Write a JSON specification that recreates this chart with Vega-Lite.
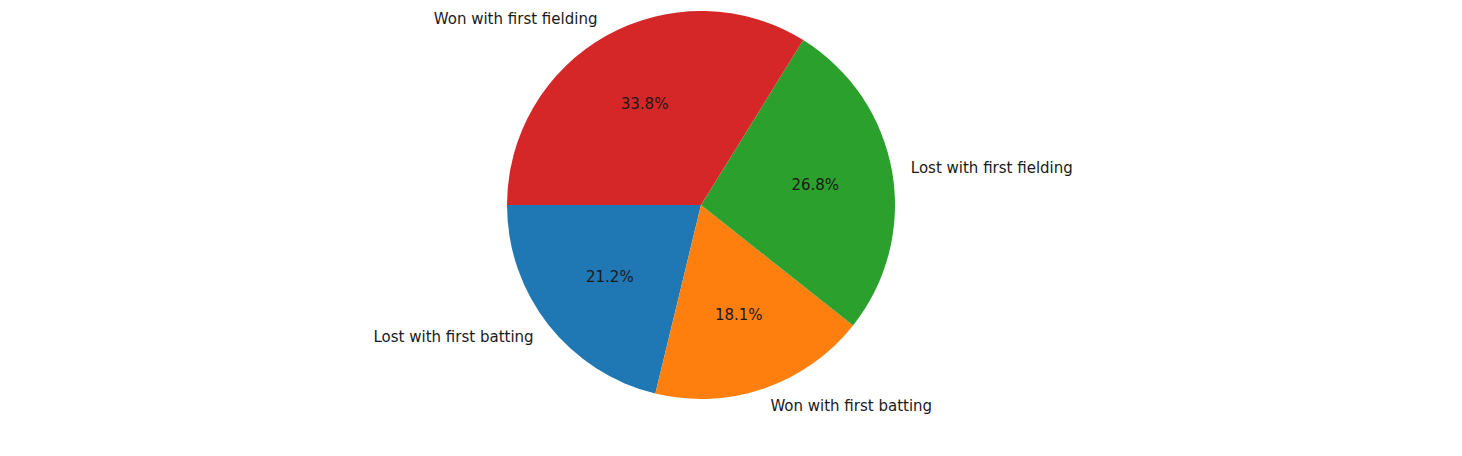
{
  "$schema": "https://vega.github.io/schema/vega-lite/v6.json",
  "description": "Pie chart of match results by toss decision",
  "autosize": {"type": "fit", "contains": "padding"},
  "width": 1462,
  "height": 456,
  "padding": {"left": 0, "right": 60, "top": 0, "bottom": 46},
  "background": "white",
  "config": {"view": {"stroke": null}, "text": {"font": "DejaVu Sans", "fontSize": 15, "color": "#1a1a1a"}},
  "data": {
    "values": [
      {"idx": 0, "result": "Lost with first batting", "share": 0.212},
      {"idx": 1, "result": "Won with first batting", "share": 0.181},
      {"idx": 2, "result": "Lost with first fielding", "share": 0.268},
      {"idx": 3, "result": "Won with first fielding", "share": 0.338}
    ]
  },
  "encoding": {
    "theta": {
      "field": "share",
      "type": "quantitative",
      "stack": true,
      "scale": {"range": [4.712389, 10.995574]}
    },
    "order": {"field": "idx", "type": "quantitative", "sort": "descending"}
  },
  "layer": [
    {
      "mark": {"type": "arc", "outerRadius": 194},
      "encoding": {
        "color": {
          "field": "result",
          "type": "nominal",
          "scale": {
            "domain": ["Lost with first batting", "Won with first batting", "Lost with first fielding", "Won with first fielding"],
            "range": ["#1f77b4", "#ff7f0e", "#2ca02c", "#d62728"]
          },
          "legend": null
        }
      }
    },
    {
      "mark": {"type": "text", "radius": 116, "align": "center", "baseline": "middle"},
      "encoding": {
        "text": {"field": "share", "type": "quantitative", "format": ".1%"}
      }
    },
    {
      "mark": {"type": "text", "radius": 213, "align": "left", "baseline": "middle"},
      "encoding": {
        "text": {
          "condition": {"test": "datum.result === 'Lost with first fielding' || datum.result === 'Won with first batting'", "field": "result"},
          "value": ""
        }
      }
    },
    {
      "mark": {"type": "text", "radius": 213, "align": "right", "baseline": "middle"},
      "encoding": {
        "text": {
          "condition": {"test": "datum.result === 'Won with first fielding' || datum.result === 'Lost with first batting'", "field": "result"},
          "value": ""
        }
      }
    }
  ]
}
